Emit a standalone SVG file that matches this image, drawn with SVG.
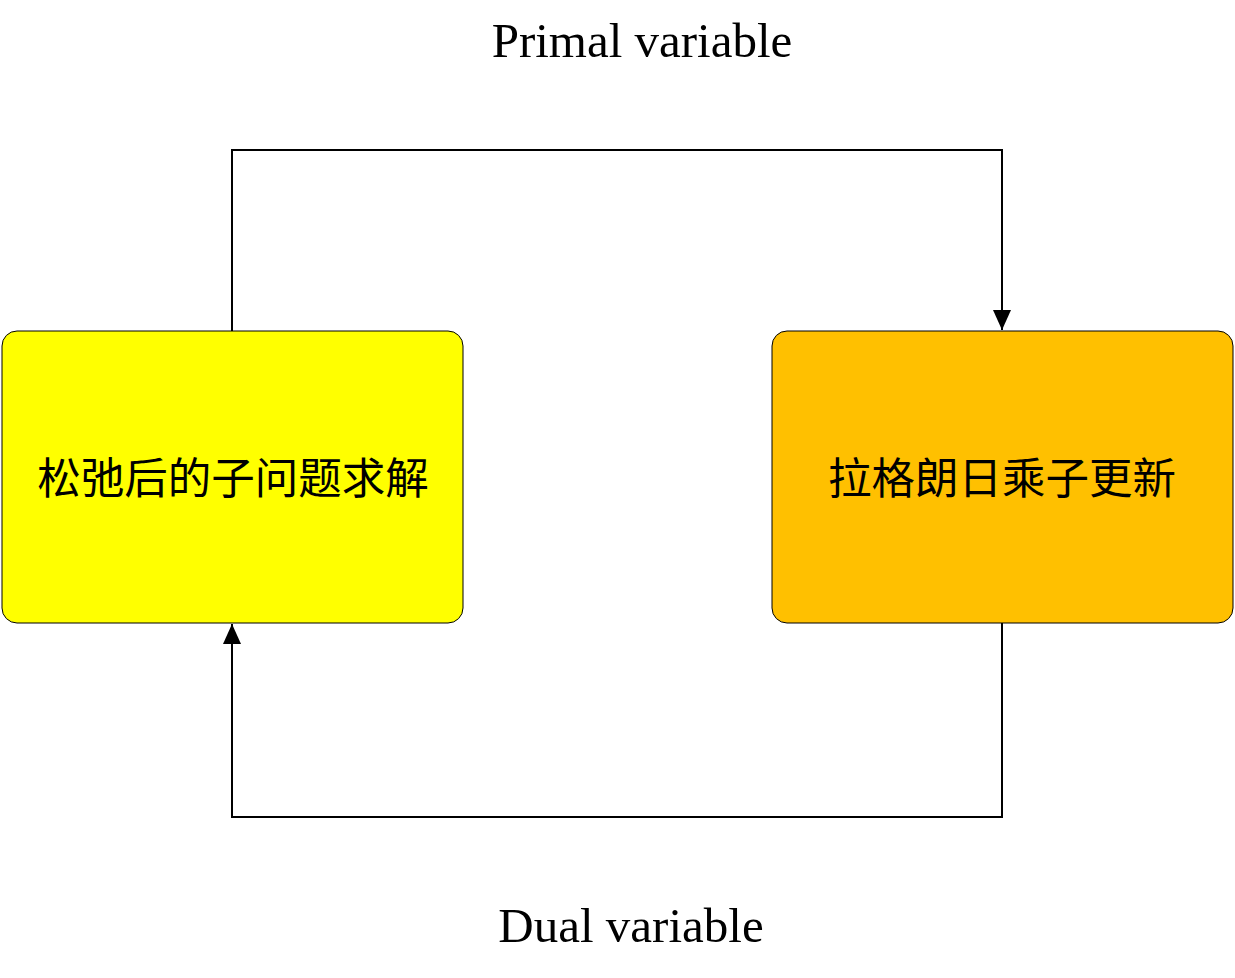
<svg xmlns="http://www.w3.org/2000/svg" width="1235" height="978" viewBox="0 0 1235 978">
<style>
.box{stroke:#000;stroke-width:1}
.lbl{font-family:"Liberation Serif","Times New Roman",serif;font-size:49px;fill:#000;text-anchor:middle}
.cn{font-family:"Noto Sans CJK SC","Noto Sans",sans-serif;font-size:43.5px;fill:#000;text-anchor:middle;dominant-baseline:central}
.conn{fill:none;stroke:#000;stroke-width:2}
</style>
<defs>
<marker id="arrB" viewBox="0 0 20 18" refX="20" refY="9" markerWidth="20" markerHeight="18" markerUnits="userSpaceOnUse" orient="auto">
<path d="M0,0 L20,9 L0,18 z" fill="#000"/>
</marker>
</defs>
<rect width="1235" height="978" fill="#fff"/>
<g id="connectors">
<path class="conn" d="M232,331 V150 H1002 V330" marker-end="url(#arrB)"/>
<path class="conn" d="M1002,623 V817 H232 V624" marker-end="url(#arrB)"/>
</g>
<g id="node-left">
<rect class="box" x="2" y="331" width="461" height="292" rx="15" fill="#FFFF00"/>
<text class="cn" x="233" y="475">松弛后的子问题求解</text>
</g>
<g id="node-right">
<rect class="box" x="772" y="331" width="461" height="292" rx="15" fill="#FFC000"/>
<text class="cn" x="1002" y="475">拉格朗日乘子更新</text>
</g>
<g id="label-primal">
<text class="lbl" x="642" y="57">Primal variable</text>
</g>
<g id="label-dual">
<text class="lbl" x="631" y="942">Dual variable</text>
</g>
</svg>
